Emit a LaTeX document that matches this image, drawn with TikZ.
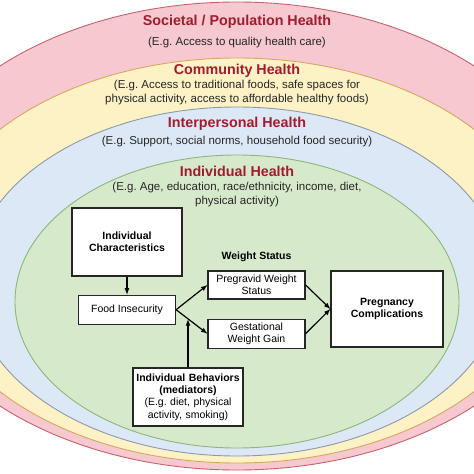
\documentclass[tikz,border=0pt]{standalone}
\usepackage{fontspec}
\setmainfont{Liberation Sans}
\usetikzlibrary{positioning}
\frenchspacing

\definecolor{ringred}{HTML}{F6C8CF}
\definecolor{ringredline}{HTML}{C8606E}
\definecolor{ringyellow}{HTML}{FDF2C6}
\definecolor{ringyellowline}{HTML}{D8A65E}
\definecolor{ringblue}{HTML}{DDE8F6}
\definecolor{ringblueline}{HTML}{8E99A8}
\definecolor{ringgreen}{HTML}{D6EACB}
\definecolor{ringgreenline}{HTML}{8CB67A}
\definecolor{headred}{HTML}{A21C2D}

\begin{document}
\begin{tikzpicture}[x=1pt,y=-1pt,->,>=latex,line width=1.2pt]

	\tikzset{node head/.style={font=\fontsize{14.3}{16}\selectfont\bfseries,
			text=headred, inner sep=0pt}}
	\tikzset{node sub/.style={font=\fontsize{11.5}{13.3}\selectfont,
			text=black!85, align=center, inner sep=0pt}}
	\tikzset{node box/.style={draw=black!85, fill=white, align=center,
			font=\fontsize{10.5}{12.3}\selectfont, inner sep=2pt}}
	\tikzset{ring/.style={line width=0.9pt}}

	\useasboundingbox (0,0) rectangle (474,474);
	\clip (0,0) rectangle (474,474);
	\fill[white] (0,0) rectangle (474,474);

	% nested levels
	\filldraw[ring, -, fill=ringred, draw=ringredline] (237,236) ellipse [x radius=345pt, y radius=234pt];
	\filldraw[ring, -, fill=ringyellow, draw=ringyellowline] (237,260.5) ellipse [x radius=311pt, y radius=202.5pt];
	\filldraw[ring, -, fill=ringblue, draw=ringblueline] (237,281.5) ellipse [x radius=266pt, y radius=174.5pt];
	\filldraw[ring, -, fill=ringgreen, draw=ringgreenline] (237,301.5) ellipse [x radius=222pt, y radius=146.5pt];

	% level titles
	\node[node head] (soc) at (237,22) {Societal / Population Health};
	\node[node sub] (socx) at (237,43) {(E.g. Access to quality health care)};
	\node[node head] (com) at (237,71) {Community Health};
	\node[node sub] (comx) at (237,92.5) {(E.g. Access to traditional foods, safe spaces for\\physical activity, access to affordable healthy foods)};
	\node[node head] (inter) at (237,124) {Interpersonal Health};
	\node[node sub] (interx) at (237,142) {(E.g. Support, social norms, household food security)};
	\node[node head] (ind) at (237,171) {Individual Health};
	\node[node sub] (indx) at (237,194.5) {(E.g. Age, education, race/ethnicity, income, diet,\\physical activity)};

	% model
	\node[node box, minimum width=110pt, minimum height=68pt, font=\fontsize{10.5}{12.3}\selectfont\bfseries] (IC) at (127,242) {Individual\\Characteristics};
	\node[node box, minimum width=97pt, minimum height=29pt, below=18pt of IC] (FI) {Food Insecurity};
	\node[node box, minimum width=97pt, minimum height=28pt] (PW) at (256.5,285) {Pregravid Weight\\Status};
	\node[node box, minimum width=97pt, minimum height=29pt, below=19pt of PW] (GW) {Gestational\\Weight Gain};
	\node[font=\fontsize{10.5}{12.3}\selectfont\bfseries, above=8pt of PW, inner sep=0pt] (WS) {Weight Status};
	\node[node box, minimum width=112pt, minimum height=76pt, font=\fontsize{10.5}{12.3}\selectfont\bfseries] (PC) at (387,309) {Pregnancy\\Complications};
	\node[node box, minimum width=110pt, minimum height=58pt, text width=104pt] (IB) at (188,397) {\textbf{Individual Behaviors}\\\textbf{(mediators)}\\(E.g. diet, physical\\activity, smoking)};

	\draw (IC) -- (FI);
	\draw (FI.east) -- (PW.west);
	\draw (FI.east) -- coordinate[pos=0.4] (med) (GW.west);
	\draw (PW.east) -- (PC.west);
	\draw (GW.east) -- (PC.west);
	\draw (IB.north) -- (IB.north |- med);
\end{tikzpicture}
\end{document}
